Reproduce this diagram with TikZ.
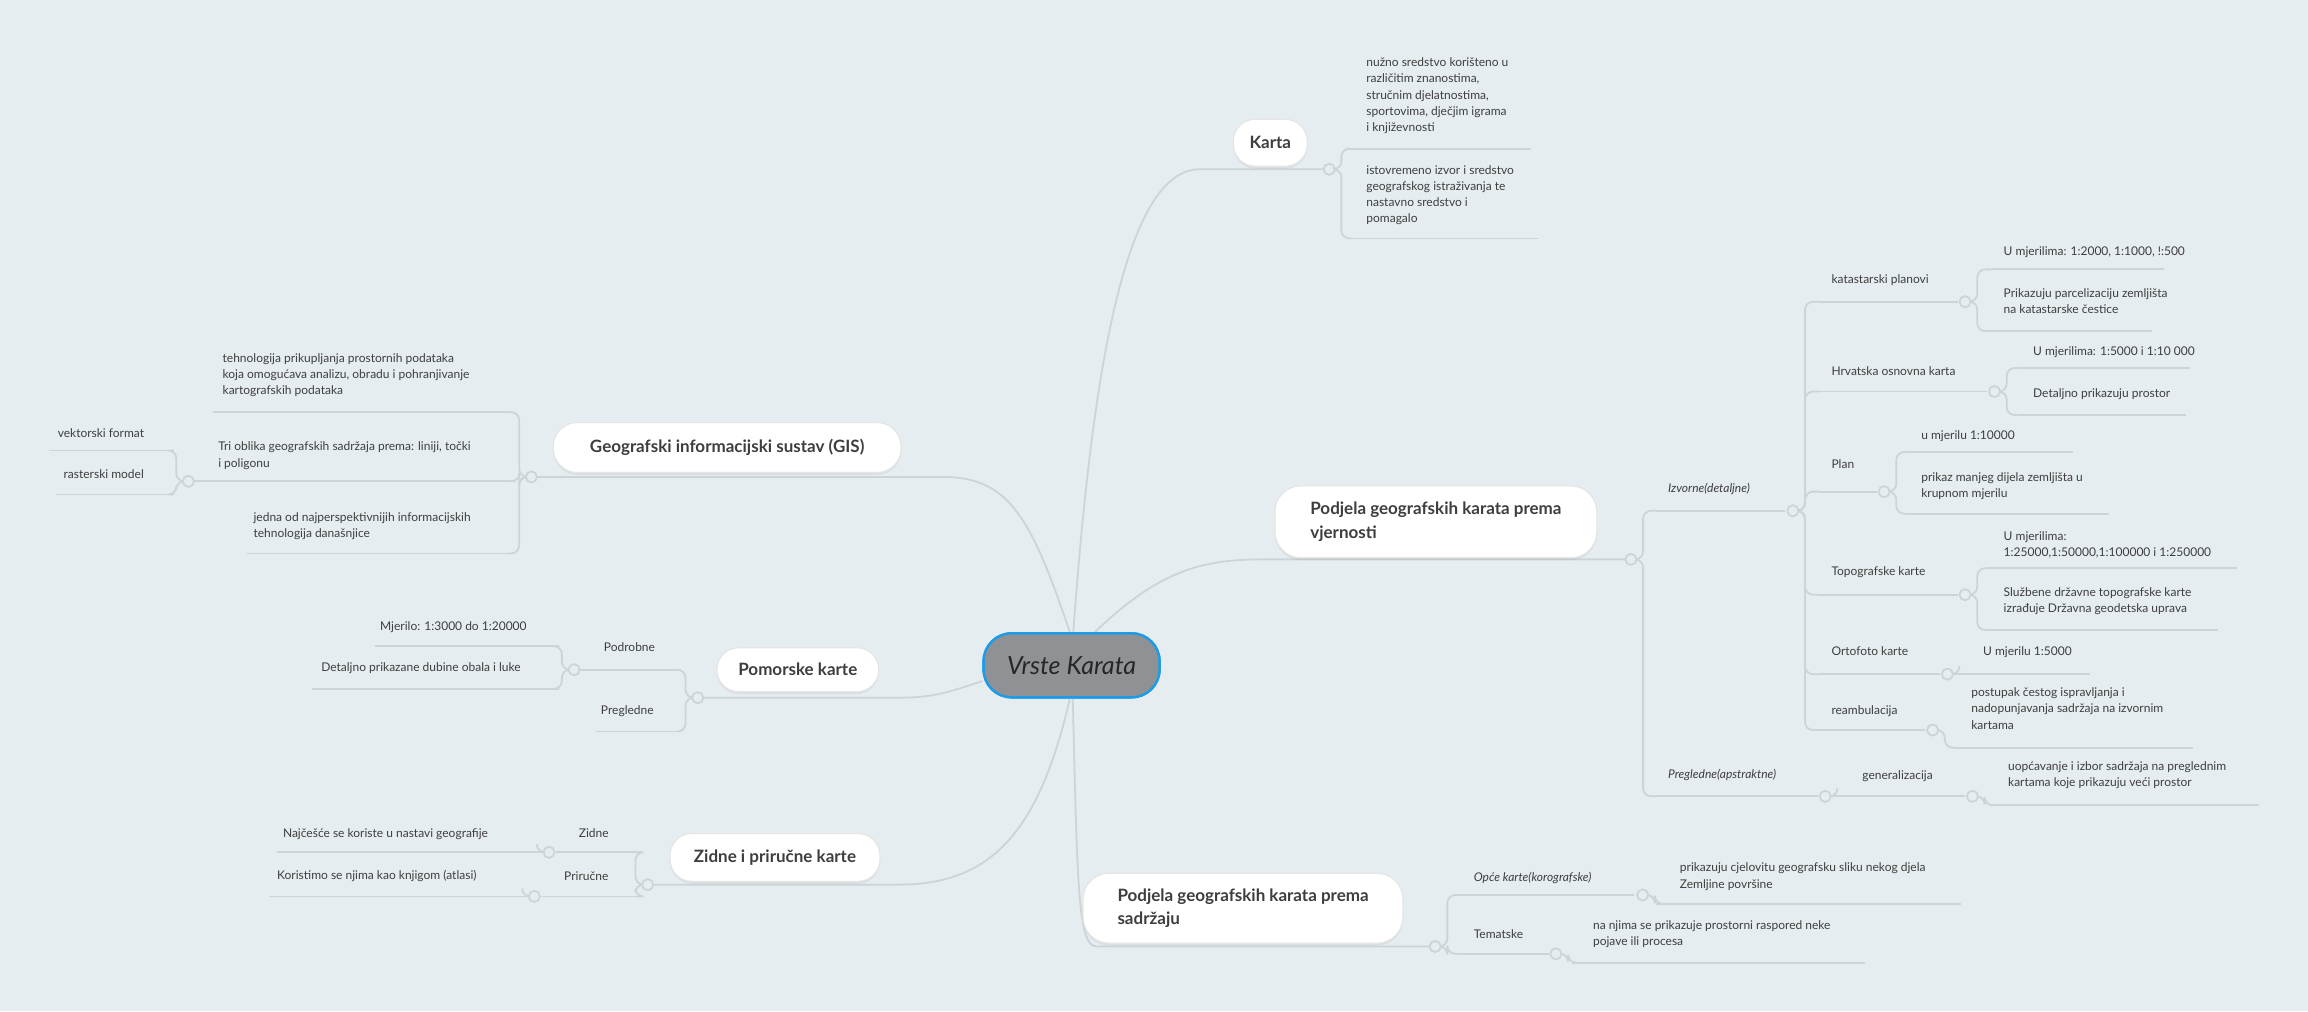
\documentclass[tikz,border=0pt]{standalone}
\usepackage{fontspec}
\setmainfont{Lato}
\usetikzlibrary{shadows}
\definecolor{bg}{HTML}{E6EDF0}
\definecolor{lnc}{HTML}{CDD3D6}
\definecolor{txt}{HTML}{3E3E3E}
\definecolor{rootfill}{HTML}{8F9194}
\definecolor{rootdraw}{HTML}{1E9BE6}
\tikzset{
  ln/.style={draw=lnc, line width=0.9pt},
  leaf/.style={inner sep=0pt, align=left, anchor=north west, text=txt, font=\fontsize{6}{8.1}\selectfont},
  dotc/.style={circle, draw=lnc, line width=0.8pt, fill=bg, inner sep=0pt, minimum size=5.5pt},
  rootbox/.style={rounded corners=14pt, fill=rootfill, draw=rootdraw, line width=1.2pt, minimum width=88pt, minimum height=32pt,
      font=\fontsize{12.5}{14}\selectfont\itshape, text=black!85},
  mainbox/.style={rounded corners=10pt, fill=white, draw=white!90!black, line width=0.6pt, text=txt,
     font=\fontsize{8.5}{11.8}\selectfont\bfseries, align=left,
     drop shadow={opacity=0.12, shadow xshift=0pt, shadow yshift=-1.2pt}},
}
% #1 name, #2 x, #3 first-line centre y, #4 underline y, #5 left end, #6 right end, #7 text
\newcommand\lfn[7]{%
  \node[leaf] (#1) at (#2,{#3-5}) {#7};
  \coordinate (#1l) at (#5,#4); \coordinate (#1r) at (#6,#4);
  \draw[ln] (#1l) -- (#1r);}
\newcommand\conR[2]{\draw[ln, rounded corners=4pt] (#1.east) -- ++(4,0) |- (#2l);}
\newcommand\conL[2]{\draw[ln, rounded corners=4pt] (#1.west) -- ++(-4,0) |- (#2r);}
\begin{document}
\begin{tikzpicture}[x=0.736pt, y=-0.736pt]
\fill[bg] (0,0) rectangle (1568,687);
\useasboundingbox (0,0) rectangle (1568,687);

\coordinate (pK) at (903,115);
\coordinate (pV) at (1108,380);
\coordinate (pS) at (975,643);
\coordinate (pG) at (361,324);
\coordinate (pP) at (474,474);
\coordinate (pZ) at (440,601);

\node[rootbox] (root) at (728,452) {Vrste Karata};

\draw[ln] (root.87) .. controls (742,250) and (765,115) .. (815,115) -- (pK);
\draw[ln] (root.55) .. controls (790,385) and (820,380) .. (860,380) -- (pV);
\draw[ln] (root.-88) .. controls (732,600) and (732,643) .. (745,643) -- (pS);
\draw[ln] (root.93) .. controls (700,350) and (685,324) .. (640,324) -- (pG);
\draw[ln] (root.190) .. controls (645,470) and (635,474) .. (610,474) -- (pP);
\draw[ln] (root.-93) .. controls (705,570) and (670,601) .. (610,601) -- (pZ);
\node[rootbox] at (728,452) {Vrste Karata};

\node[mainbox, minimum width=37pt, minimum height=23.5pt, rounded corners=11pt, align=center] (karta) at (863,97) {Karta};
\node[mainbox, minimum width=161pt, minimum height=36pt, rounded corners=13pt] (vjer) at (975.5,354.5) {Podjela geografskih karata prema\\vjernosti\hspace{80pt}};
\node[mainbox, minimum width=160pt, minimum height=35pt, rounded corners=13pt] (sadr) at (844.5,617) {Podjela geografskih karata prema\\sadržaju\hspace{83pt}};
\node[mainbox, minimum width=174pt, minimum height=25pt, rounded corners=12pt] (gis) at (494,304) {Geografski informacijski sustav (GIS)};
\node[mainbox, minimum width=81pt, minimum height=22pt, rounded corners=11pt] (pom) at (542,455) {Pomorske karte};
\node[mainbox, minimum width=105pt, minimum height=24pt, rounded corners=11pt] (zid) at (526.5,582.5) {Zidne i priručne karte};

\lfn{k1}{928}{44}{101}{915}{1040}{nužno sredstvo korišteno u\\različitim znanostima,\\stručnim djelatnostima,\\sportovima, dječjim igrama\\i književnosti}
\lfn{k2}{928}{117}{162}{918}{1045}{istovremeno izvor i sredstvo\\geografskog istraživanja te\\nastavno sredstvo i\\pomagalo}
\lfn{izv}{1133}{333}{347}{1125}{1213}{\itshape Izvorne(detaljne)}
\lfn{kat}{1244}{191}{205}{1236}{1330}{katastarski planovi}
\lfn{kat1}{1361}{172}{183}{1353}{1470}{U mjerilima: 1:2000, 1:1000, !:500}
\lfn{kat2}{1361}{201}{225}{1350}{1462}{Prikazuju parcelizaciju zemljišta\\na katastarske čestice}
\lfn{hok}{1244}{254}{266}{1236}{1350}{Hrvatska osnovna karta}
\lfn{hok1}{1381}{240}{250}{1370}{1488}{U mjerilima: 1:5000 i 1:10 000}
\lfn{hok2}{1381}{269}{282}{1370}{1485}{Detaljno prikazuju prostor}
\lfn{plan}{1244}{317}{334}{1236}{1275}{Plan}
\lfn{plan1}{1305}{297}{307}{1295}{1408}{u mjerilu 1:10000}
\lfn{plan2}{1305}{326}{349}{1295}{1433}{prikaz manjeg dijela zemljišta u\\krupnom mjerilu}
\lfn{topo}{1244}{390}{404}{1236}{1330}{Topografske karte}
\lfn{topo1}{1361}{366}{386}{1350}{1520}{U mjerilima:\\1:25000,1:50000,1:100000 i 1:250000}
\lfn{topo2}{1361}{404}{428}{1350}{1507}{Službene državne topografske karte\\izrađuje Državna geodetska uprava}
\lfn{orto}{1244}{444}{458}{1236}{1318}{Ortofoto karte}
\lfn{orto1}{1347}{444}{458}{1328}{1420}{U mjerilu 1:5000}
\lfn{ream}{1244}{484}{496}{1236}{1308}{reambulacija}
\lfn{ream1}{1339}{472}{508}{1328}{1490}{postupak čestog ispravljanja i\\nadopunjavanja sadržaja na izvornim\\kartama}
\lfn{preg}{1133}{527}{541}{1125}{1235}{\itshape Pregledne(apstraktne)}
\lfn{gen}{1265}{528}{541}{1245}{1335}{generalizacija}
\lfn{gen1}{1364}{522}{547}{1352}{1535}{uopćavanje i izbor sadržaja na preglednim\\kartama koje prikazuju veći prostor}
\lfn{opce}{1001}{597}{608}{990}{1110}{\itshape Opće karte(korografske)}
\lfn{opce1}{1141}{591}{614}{1125}{1332}{prikazuju cjelovitu geografsku sliku nekog djela\\Zemljine površine}
\lfn{tem}{1001}{636}{648}{990}{1052}{Tematske}
\lfn{tem1}{1082}{630}{654}{1068}{1267}{na njima se prikazuje prostorni raspored neke\\pojave ili procesa}

\lfn{g1}{151}{245}{280}{145}{345}{tehnologija prikupljanja prostornih podataka\\koja omogućava analizu, obradu i pohranjivanje\\kartografskih podataka}
\lfn{g2}{148}{305}{327}{132}{350}{Tri oblika geografskih sadržaja prema: liniji, točki\\i poligonu}
\lfn{g3}{172}{353}{376}{168}{345}{jedna od najperspektivnijih informacijskih\\tehnologija današnjice}
\lfn{v1}{39}{296}{306}{33}{118}{vektorski format}
\lfn{r1}{43}{324}{336}{38}{118}{rasterski model}
\lfn{pod}{410}{441}{455}{394}{460}{Podrobne}
\lfn{pod1}{258}{427}{439}{255}{380}{Mjerilo: 1:3000 do 1:20000}
\lfn{pod2}{218}{455}{468}{212}{380}{Detaljno prikazane dubine obala i luke}
\lfn{pre}{408}{484}{497}{405}{462}{Pregledne}
\lfn{zd}{393}{568}{579}{378}{432}{Zidne}
\lfn{zd1}{192}{568}{579}{188}{369}{Najčešće se koriste u nastavi geografije}
\lfn{pri}{383}{597}{609}{368}{432}{Priručne}
\lfn{pri1}{188}{596}{609}{183}{359}{Koristimo se njima kao knjigom (atlasi)}

\node[dotc] (cK) at (pK) {};
\node[dotc] (cV) at (pV) {};
\node[dotc] (cS) at (pS) {};
\node[dotc] (cG) at (pG) {};
\node[dotc] (cP) at (pP) {};
\node[dotc] (cZ) at (pZ) {};
\node[dotc] (cI) at (1218,347) {};
\node[dotc] (cKat) at (1335,205) {};
\node[dotc] (cHok) at (1355,266) {};
\node[dotc] (cPlan) at (1280,334) {};
\node[dotc] (cTopo) at (1335,404) {};
\node[dotc] (cOrto) at (1323,458) {};
\node[dotc] (cReam) at (1313,496) {};
\node[dotc] (cPreg) at (1240,541) {};
\node[dotc] (cGen) at (1340,541) {};
\node[dotc] (cOpce) at (1116,608) {};
\node[dotc] (cTem) at (1057,648) {};
\node[dotc] (cG2) at (128,327) {};
\node[dotc] (cPod) at (390,455) {};
\node[dotc] (cZd) at (373,579) {};
\node[dotc] (cPri) at (363,609) {};

\conR{cK}{k1} \conR{cK}{k2}
\conR{cV}{izv} \conR{cV}{preg}
\conR{cI}{kat} \conR{cI}{hok} \conR{cI}{plan} \conR{cI}{topo} \conR{cI}{orto} \conR{cI}{ream}
\conR{cKat}{kat1} \conR{cKat}{kat2}
\conR{cHok}{hok1} \conR{cHok}{hok2}
\conR{cPlan}{plan1} \conR{cPlan}{plan2}
\conR{cTopo}{topo1} \conR{cTopo}{topo2}
\conR{cOrto}{orto1}
\conR{cReam}{ream1}
\conR{cPreg}{gen}
\conR{cGen}{gen1}
\conR{cS}{opce} \conR{cS}{tem}
\conR{cOpce}{opce1}
\conR{cTem}{tem1}
\conL{cG}{g1} \conL{cG}{g2} \conL{cG}{g3}
\conL{cG2}{v1} \conL{cG2}{r1}
\conL{cP}{pod} \conL{cP}{pre}
\conL{cPod}{pod1} \conL{cPod}{pod2}
\conL{cZ}{zd} \conL{cZ}{pri}
\conL{cZd}{zd1}
\conL{cPri}{pri1}
\foreach \n in {cK,cV,cS,cG,cP,cZ,cI,cKat,cHok,cPlan,cTopo,cOrto,cReam,cPreg,cGen,cOpce,cTem,cG2,cPod,cZd,cPri}
  \node[dotc] at (\n) {};
\end{tikzpicture}
\end{document}
